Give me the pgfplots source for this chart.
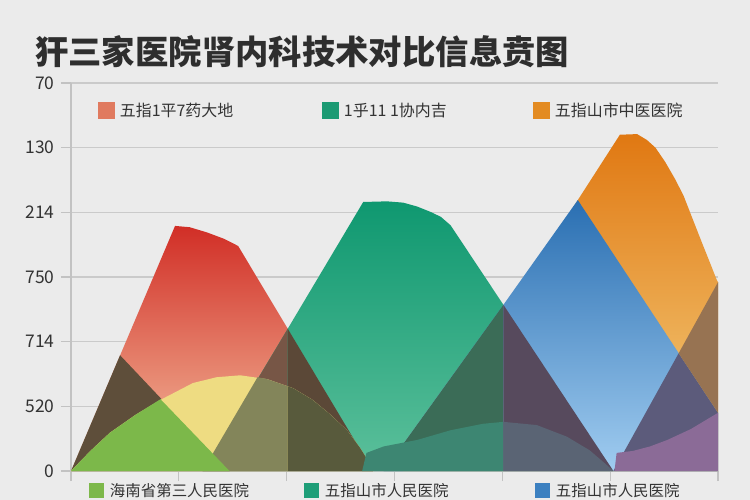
\documentclass[border=0pt]{standalone}
\usepackage{fontspec}
\setmainfont{Noto Sans CJK SC}
\usepackage{pgfplots}
\pgfplotsset{compat=1.18}
\definecolor{bg}{HTML}{EBEBEB}
\definecolor{titlec}{HTML}{2E2E2E}
\definecolor{tickc}{HTML}{333333}
\definecolor{axc}{HTML}{C2C2C2}
\definecolor{gridc}{HTML}{CACACA}
\definecolor{redT}{HTML}{D12E26}
\definecolor{redB}{HTML}{F5C2A2}
\definecolor{tealT}{HTML}{0F9870}
\definecolor{tealB}{HTML}{5CC09B}
\definecolor{orT}{HTML}{E07812}
\definecolor{orB}{HTML}{F5D282}
\definecolor{blT}{HTML}{2A6FB2}
\definecolor{blB}{HTML}{A0CCF0}
\definecolor{dOne}{HTML}{5E4E3A}
\definecolor{tTwoL}{HTML}{775646}
\definecolor{tTwoR}{HTML}{5B4837}
\definecolor{dome}{HTML}{EEDC82}
\definecolor{green}{HTML}{7CB84A}
\definecolor{oliveL}{HTML}{83855A}
\definecolor{oliveR}{HTML}{585A3C}
\definecolor{tThreeL}{HTML}{3B6C57}
\definecolor{tThreeR}{HTML}{574A5D}
\definecolor{lowL}{HTML}{3D8672}
\definecolor{lowR}{HTML}{5A6474}
\definecolor{slate}{HTML}{5C5B7B}
\definecolor{brownc}{HTML}{977352}
\definecolor{purple}{HTML}{8B6B97}
\definecolor{lgA}{HTML}{E07A5F}
\definecolor{lgB}{HTML}{1B9A73}
\definecolor{lgC}{HTML}{E38B22}
\definecolor{lgD}{HTML}{7DB84A}
\definecolor{lgE}{HTML}{1E9E78}
\definecolor{lgF}{HTML}{3C80C0}
\begin{document}
\begin{tikzpicture}
\fill[bg] (0bp,0bp) rectangle (750bp,500bp);
\node[anchor=west, text=titlec, font=\bfseries\fontsize{33.5}{36}\selectfont, inner sep=0pt] at (35bp,448bp) {犴三家医院肾内科技术对比信息贲图};
\begin{axis}[
  at={(71bp,29bp)}, anchor=south west,
  scale only axis, width=647bp, height=388bp,
  xmin=0, xmax=6, ymin=0, ymax=6,
  axis x line*=bottom, axis y line*=left,
  axis line style={draw=axc, line width=1.3bp, -},
  xtick={0,1,2,3,4,5,6}, xticklabels={},
  ytick={0,1,2,3,4,5,6}, yticklabels={0,520,714,750,214,130,70},
  tick align=outside, major tick length=10bp,
  tick style={draw=axc, line width=1.3bp},
  ymajorgrids, grid style={draw=gridc, line width=1.3bp},
  yticklabel style={font=\fontsize{17.5}{20}\selectfont, text=tickc, xshift=-3bp},
  clip=false,
  legend columns=3,
  legend image code/.code={\fill[#1] (0bp,-8.5bp) rectangle (17bp,8.5bp); \path (22bp,0bp);},
  legend style={draw=none, fill=none, inner sep=0pt, outer sep=0pt,
    at={(0.0417,0.930)}, anchor=west, font=\fontsize{16}{18}\selectfont,
    text=tickc, nodes={inner sep=0pt}},
]
% main series
\addplot[draw=none, top color=redT, bottom color=redB, forget plot] coordinates {(0,0) (0.965,3.79) (1.1,3.77) (1.26,3.69) (1.42,3.59) (1.55,3.48) (2.01,2.20) (2.80,0)} -- cycle;
\addplot[draw=none, top color=tealT, bottom color=tealB, forget plot] coordinates {(1.22,0) (2.01,2.20) (2.71,4.16) (2.93,4.17) (3.08,4.15) (3.21,4.09) (3.33,4.01) (3.43,3.93) (3.52,3.80) (4.01,2.57) (5.03,0)} -- cycle;
\addplot[draw=none, top color=orT, bottom color=orB, forget plot] coordinates {(3.08,0) (4.70,4.19) (5.09,5.20) (5.25,5.21) (5.34,5.12) (5.42,5.00) (5.51,4.78) (5.60,4.52) (5.68,4.26) (5.83,3.62) (5.99,2.95) (6,2.92) (6,0)} -- cycle;
\addplot[draw=none, top color=blT, bottom color=blB, forget plot] coordinates {(2.90,0) (4.01,2.57) (4.70,4.19) (6,0.9) (6,0)} -- cycle;
% overlaps
\addplot[draw=none, fill=dOne, forget plot] coordinates {(0,0) (0.455,1.79) (1.47,0)} -- cycle;
\addplot[draw=none, fill=tTwoL, forget plot] coordinates {(1.22,0) (2.01,2.20) (2.01,0)} -- cycle;
\addplot[draw=none, fill=tTwoR, forget plot] coordinates {(2.01,0) (2.01,2.20) (2.80,0)} -- cycle;
\addplot[draw=none, fill=dome, forget plot] coordinates {(0,0) (0.18,0.31) (0.36,0.59) (0.6,0.87) (0.83,1.10) (1.13,1.36) (1.35,1.45) (1.57,1.48) (1.82,1.42) (2.06,1.28) (2.24,1.10) (2.40,0.88) (2.56,0.63) (2.68,0.36) (2.77,0.12) (2.81,0)} -- cycle;
\addplot[draw=none, fill=oliveL, forget plot] coordinates {(1.22,0) (1.73,1.45) (1.82,1.42) (2.01,1.31) (2.01,0)} -- cycle;
\addplot[draw=none, fill=oliveR, forget plot] coordinates {(2.01,0) (2.01,1.31) (2.06,1.28) (2.24,1.10) (2.40,0.88) (2.56,0.63) (2.68,0.36) (2.77,0.12) (2.80,0)} -- cycle;
\addplot[draw=none, fill=green, forget plot] coordinates {(0,0) (0.18,0.31) (0.36,0.59) (0.6,0.87) (0.83,1.11) (1.47,0)} -- cycle;
\addplot[draw=none, fill=tThreeL, forget plot] coordinates {(2.90,0) (4.01,2.57) (4.01,0)} -- cycle;
\addplot[draw=none, fill=tThreeR, forget plot] coordinates {(4.01,0) (4.01,2.57) (5.03,0)} -- cycle;
\addplot[draw=none, fill=lowL, forget plot] coordinates {(2.70,0) (2.74,0.28) (2.90,0.38) (3.21,0.48) (3.52,0.63) (3.82,0.73) (4.01,0.76) (4.01,0)} -- cycle;
\addplot[draw=none, fill=lowR, forget plot] coordinates {(4.01,0) (4.01,0.76) (4.32,0.71) (4.60,0.53) (4.81,0.32) (4.95,0.12) (5.03,0)} -- cycle;
\addplot[draw=none, fill=slate, forget plot] coordinates {(5.03,0) (5.635,1.82) (6,0.9) (6,0)} -- cycle;
\addplot[draw=none, fill=brownc, forget plot] coordinates {(5.635,1.82) (6,2.92) (6,0.9)} -- cycle;
\addplot[draw=none, fill=purple, forget plot] coordinates {(5.04,0) (5.06,0.28) (5.21,0.31) (5.37,0.38) (5.53,0.48) (5.75,0.65) (6,0.9) (6,0)} -- cycle;
\addlegendimage{draw=none, fill=lgA}
\addlegendentry{\makebox[202bp][l]{五指1平7药大地}}
\addlegendimage{draw=none, fill=lgB}
\addlegendentry{\makebox[189bp][l]{1乎11 1协内吉}}
\addlegendimage{draw=none, fill=lgC}
\addlegendentry{五指山市中医医院}
\end{axis}
\begin{axis}[
  at={(71bp,29bp)}, anchor=south west,
  scale only axis, width=647bp, height=388bp,
  xmin=0, xmax=1, ymin=0, ymax=1, hide axis,
  legend columns=3,
  legend image code/.code={\fill[#1] (0bp,-7.5bp) rectangle (15bp,7.5bp); \path (21bp,0bp);},
  legend style={draw=none, fill=none, inner sep=0pt, outer sep=0pt,
    at={(0.0278,-0.0515)}, anchor=west, font=\fontsize{15.5}{17}\selectfont,
    text=tickc, nodes={inner sep=0pt}},
]
\addlegendimage{draw=none, fill=lgD}
\addlegendentry{\makebox[194bp][l]{海南省第三人民医院}}
\addlegendimage{draw=none, fill=lgE}
\addlegendentry{\makebox[210bp][l]{五指山市人民医院}}
\addlegendimage{draw=none, fill=lgF}
\addlegendentry{五指山市人民医院}
\end{axis}
\pgfresetboundingbox
\useasboundingbox (0bp,0bp) rectangle (750bp,500bp);
\end{tikzpicture}
\end{document}
